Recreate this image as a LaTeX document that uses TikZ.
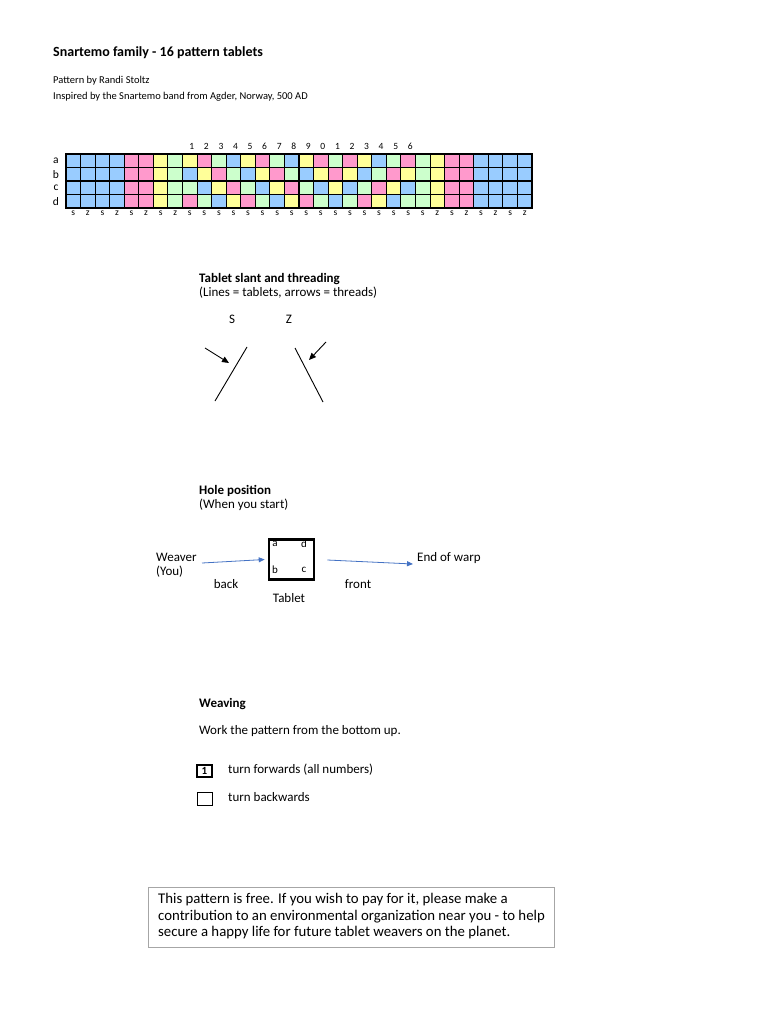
\documentclass[tikz,border=0pt]{standalone}
\usepackage{fontspec}
\setmainfont{Carlito}
\usetikzlibrary{arrows.meta}
\definecolor{cB}{HTML}{99CCFF}
\definecolor{cP}{HTML}{FF99CC}
\definecolor{cY}{HTML}{FFFF99}
\definecolor{cG}{HTML}{CCFFCC}
\definecolor{arrblue}{HTML}{4472C4}
\definecolor{boxgray}{HTML}{A6A6A6}
\tikzset{
  txt/.style={anchor=west, inner sep=0pt, font=\fontsize{13}{15.5}\selectfont},
  hdr/.style={txt, font=\fontsize{13}{15.5}\selectfont\bfseries},
  smalltxt/.style={anchor=west, inner sep=0pt, font=\fontsize{10.5}{12}\selectfont},
  gridlbl/.style={inner sep=0pt, font=\fontsize{9.5}{11}\selectfont},
  rowlbl/.style={inner sep=0pt, font=\fontsize{11.5}{13}\selectfont},
  thr/.style={line width=0.9pt, -{Triangle[length=7pt,width=6pt]}},
  tabline/.style={line width=0.9pt},
  bluearr/.style={draw=arrblue, line width=0.8pt, -{Triangle[length=6pt,width=5pt]}, fill=none},
  hole/.style={inner sep=0pt, font=\fontsize{11}{12}\selectfont},
  ctr/.style={inner sep=0pt, font=\fontsize{13}{15.5}\selectfont},
}
\begin{document}
\begin{tikzpicture}[x=1pt,y=-1pt]
\useasboundingbox (0,0) rectangle (768,1024);
\fill[white] (0,0) rectangle (768,1024);

% Header
\node[anchor=west, inner sep=0pt, font=\fontsize{14}{16}\selectfont\bfseries] (title) at (53,53) {Snartemo family - 16 pattern tablets};
\node[smalltxt] (author) at (53,81) {Pattern by Randi Stoltz};
\node[smalltxt] (insp) at (53,97) {Inspired by the Snartemo band from Agder, Norway, 500 AD};

% Grid
\def\cw{14.5625}
\def\rh{13.5}
\foreach \i/\ca/\cb/\cc/\cd/\sz in {
 1/B/B/B/B/s, 2/B/B/B/B/z, 3/B/B/B/B/s, 4/B/B/B/B/z,
 5/P/P/P/P/s, 6/P/P/P/P/z, 7/Y/Y/Y/Y/s, 8/G/G/G/G/z,
 9/Y/B/G/P/s, 10/P/Y/B/G/s, 11/G/P/Y/B/s, 12/B/G/P/Y/s,
 13/Y/B/G/P/s, 14/P/Y/B/G/s, 15/G/P/Y/B/s, 16/B/G/P/Y/s,
 17/Y/B/G/P/s, 18/P/Y/B/G/s, 19/G/P/Y/B/s, 20/P/Y/B/G/s,
 21/Y/B/G/P/s, 22/B/G/P/Y/s, 23/G/P/Y/B/s, 24/P/Y/B/G/s,
 25/G/G/G/G/s, 26/Y/Y/Y/Y/z, 27/P/P/P/P/s, 28/P/P/P/P/z,
 29/B/B/B/B/s, 30/B/B/B/B/z, 31/B/B/B/B/s, 32/B/B/B/B/z}{
  \pgfmathsetmacro{\xx}{66+(\i-1)*\cw}
  \fill[c\ca] (\xx,154) rectangle ++(\cw,\rh);
  \fill[c\cb] (\xx,154+\rh) rectangle ++(\cw,\rh);
  \fill[c\cc] (\xx,154+2*\rh) rectangle ++(\cw,\rh);
  \fill[c\cd] (\xx,154+3*\rh) rectangle ++(\cw,\rh);
  \node[gridlbl] (sz\i) at (\xx+0.5*\cw,213) {\sz};
}
\foreach \i in {0,...,32}{
  \draw[line width=1.1pt] ({66+\i*\cw},154) -- ({66+\i*\cw},208);
}
\foreach \j in {0,...,4}{
  \draw[line width=1.1pt] (66,{154+\j*\rh}) -- (532,{154+\j*\rh});
}
\draw[line width=1.5pt] (66,154) rectangle (532,208);
\foreach \n [count=\k from 9] in {1,2,3,4,5,6,7,8,9,0,1,2,3,4,5,6}{
  \node[gridlbl] (num\k) at ({66+(\k-0.5)*\cw+2},146) {\n};
}
\foreach \l [count=\r] in {a,b,c,d}{
  \node[rowlbl] (row\l) at (56,{154+(\r-0.5)*\rh}) {\l};
}

% Tablet slant
\node[hdr] (slanth) at (199,279) {Tablet slant and threading};
\node[txt] (slantsub) at (199,293) {(Lines = tablets, arrows = threads)};
\node[ctr] (slbl) at (232,319) {S};
\node[ctr] (zlbl) at (289,319) {Z};
\coordinate (s0) at (215,401);
\coordinate (s1) at (247,347);
\draw[tabline] (s0) -- (s1);
\coordinate (sa0) at (205,348);
\coordinate (sa1) at (229,363);
\draw[thr] (sa0) -- (sa1);
\coordinate (z0) at (295,348);
\coordinate (z1) at (323,402);
\draw[tabline] (z0) -- (z1);
\coordinate (za0) at (326,342);
\coordinate (za1) at (309,360);
\draw[thr] (za0) -- (za1);

% Hole position
\node[hdr] (holeh) at (199,491) {Hole position};
\node[txt] (holesub) at (199,505) {(When you start)};
\node[draw, line width=2.6pt, minimum width=45pt, minimum height=40pt, inner sep=0pt] (tablet) at (291.5,559.5) {};
\node[hole] (ha) at (275,544) {a};
\node[hole] (hd) at (304,544) {d};
\node[hole] (hb) at (275,570) {b};
\node[hole] (hc) at (304,570) {c};
\node[txt, align=left, font=\fontsize{13}{14}\selectfont] (weaver) at (156,565) {Weaver\\(You)};
\node[txt] (end) at (417,558) {End of warp};
\node[ctr] (back) at (226,584) {back};
\node[ctr] (front) at (358,584) {front};
\node[ctr] (tabl) at (289,598) {Tablet};
\coordinate (w1) at (202,563);
\draw[bluearr] (w1) -- ([xshift=-3pt]tablet.west);
\coordinate (e1) at (413,564);
\draw[bluearr] ([xshift=12pt,yshift=-0.5pt]tablet.east) -- (e1);

% Weaving
\node[hdr] (weavh) at (199,704) {Weaving};
\node[txt] (work) at (199,731) {Work the pattern from the bottom up.};
\node[draw, line width=1.3pt, minimum width=15pt, minimum height=12pt, inner sep=0pt, font=\fontsize{11}{12}\selectfont\bfseries] (fwdbox) at (204.5,771) {1};
\node[txt] (fwd) at (228,770) {turn forwards (all numbers)};
\node[draw, line width=0.9pt, minimum width=15pt, minimum height=13pt, inner sep=0pt] (bwdbox) at (204.5,798.5) {};
\node[txt] (bwd) at (228,797) {turn backwards};

% Free box
\node[draw=boxgray, line width=0.8pt, minimum width=406pt, minimum height=60pt, inner sep=0pt] (freebox) at (351,917) {};
\node[anchor=north west, inner sep=0pt, align=left, font=\fontsize{14.8}{16.5}\selectfont] (freetxt) at (158,893.5) {This pattern is free. If you wish to pay for it, please make a\\contribution to an environmental organization near you - to help\\secure a happy life for future tablet weavers on the planet.};
\end{tikzpicture}
\end{document}
